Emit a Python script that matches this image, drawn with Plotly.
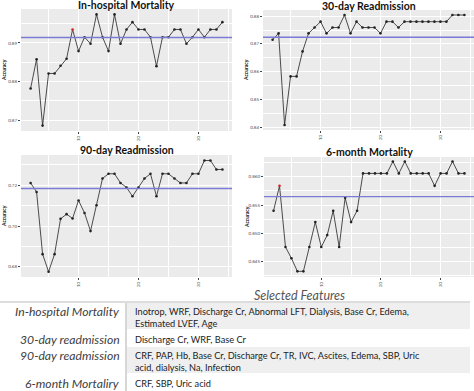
import textwrap
import plotly.graph_objects as go

# ---------------- data ----------------
n_features = list(range(2, 35))

inhosp_acc = [0.8782, 0.8858, 0.8686, 0.8821, 0.8821, 0.8841, 0.8859, 0.8935, 0.8879, 0.8915,
              0.8898, 0.8974, 0.8915, 0.8879, 0.8974, 0.8898, 0.8935, 0.8954, 0.8935, 0.8935,
              0.8915, 0.8840, 0.8915, 0.8915, 0.8935, 0.8935, 0.8898, 0.8915, 0.8935, 0.8915,
              0.8935, 0.8935, 0.8954]
inhosp_base = 0.8914
inhosp_sel = 9

readm30_acc = [0.8715, 0.8738, 0.8408, 0.8583, 0.8583, 0.8673, 0.8738, 0.8759, 0.8780, 0.8738,
               0.8759, 0.8759, 0.8804, 0.8738, 0.8780, 0.8759, 0.8759, 0.8759, 0.8738, 0.8780,
               0.8780, 0.8759, 0.8780, 0.8780, 0.8780, 0.8780, 0.8780, 0.8780, 0.8780, 0.8780,
               0.8804, 0.8804, 0.8804]
readm30_base = 0.8724
readm30_sel = None

readm90_acc = [0.7211, 0.7167, 0.6862, 0.6776, 0.6862, 0.7035, 0.7058, 0.7037, 0.7125, 0.7064,
               0.6975, 0.7102, 0.7233, 0.7256, 0.7256, 0.7211, 0.7189, 0.7146, 0.7189, 0.7233,
               0.7256, 0.7146, 0.7256, 0.7256, 0.7233, 0.7211, 0.7211, 0.7256, 0.7256, 0.7321,
               0.7321, 0.7277, 0.7277]
readm90_base = 0.7184
readm90_sel = None

mort6_acc = [0.8540, 0.8584, 0.8476, 0.8456, 0.8433, 0.8433, 0.8476, 0.8520, 0.8476, 0.8497,
             0.8540, 0.8476, 0.8563, 0.8520, 0.8540, 0.8606, 0.8606, 0.8606, 0.8606, 0.8606,
             0.8627, 0.8606, 0.8627, 0.8606, 0.8606, 0.8606, 0.8606, 0.8584, 0.8606, 0.8606,
             0.8627, 0.8606, 0.8606]
mort6_base = 0.8565
mort6_sel = 3

panel_titles = ["In-hospital Mortality", "30-day Readmission", "90-day Readmission", "6-month Mortality"]
x_ticks = [10, 20, 30]
y_ticks = [[0.87, 0.88, 0.89], [0.84, 0.85, 0.86, 0.87, 0.88], [0.68, 0.70, 0.72],
           [0.845, 0.850, 0.855, 0.860]]
y_tick_labels = [["0.87", "0.88", "0.89"], ["0.84", "0.85", "0.86", "0.87", "0.88"],
                 ["0.68", "0.70", "0.72"], ["0.845", "0.850", "0.855", "0.860"]]

table_title = "Selected Features"
outcomes = ["In-hospital Mortality", "30-day readmission", "90-day readmission", "6-month Mortaliry"]
features = [
    "Inotrop, WRF, Discharge Cr, Abnormal LFT, Dialysis, Base Cr, Edema, Estimated LVEF, Age",
    "Discharge Cr, WRF, Base Cr",
    "CRF, PAP, Hb, Base Cr, Discharge Cr, TR, IVC, Ascites, Edema, SBP, Uric acid, dialysis, Na, Infection",
    "CRF, SBP, Uric acid",
]

# ---------------- layout helpers ----------------
W, H = 474, 391


def px_x(p):
    return p / W


def px_y(p):
    return 1 - p / H


series = [inhosp_acc, readm30_acc, readm90_acc, mort6_acc]
bases = [inhosp_base, readm30_base, readm90_base, mort6_base]
sels = [inhosp_sel, readm30_sel, readm90_sel, mort6_sel]
# pixel boxes: left, right, top, bottom
boxes = [(21, 232, 9, 131), (263, 474, 10, 130), (21, 232, 155, 277), (264, 474, 157, 277)]
title_y = [5.5, 6, 149.5, 151.5]
y_ranges = [[0.8672, 0.8988], [0.8390, 0.8822], [0.6750, 0.7348], [0.8423, 0.8635]]
y_minor = [0.005, 0.005, 0.01, 0.0025]
x_range = [0.4, 35.6]

fig = go.Figure()
annotations = []
shapes = []
GRAY_BG = "#EBEBEB"
LINE_BLUE = "#7B7BD6"

for i in range(4):
    k = "" if i == 0 else str(i + 1)
    xa, ya = "x" + k, "y" + k
    l, r, t, b = boxes[i]
    xs = n_features
    ys = series[i]
    colors = ["#D62020" if (sels[i] is not None and x == sels[i]) else "#222222" for x in xs]
    fig.add_trace(go.Scatter(
        x=xs, y=ys, mode="lines+markers", xaxis=xa, yaxis=ya,
        line=dict(color="#222222", width=0.8),
        marker=dict(color=colors, size=2.6), showlegend=False, hoverinfo="x+y"))
    fig.add_trace(go.Scatter(
        x=x_range, y=[bases[i], bases[i]], mode="lines", xaxis=xa, yaxis=ya,
        line=dict(color=LINE_BLUE, width=1.4), showlegend=False, hoverinfo="skip"))
    axis_common = dict(showline=False, zeroline=False, gridcolor="white", gridwidth=0.9,
                       ticks="outside", ticklen=2, tickwidth=0.5, tickcolor="#444444",
                       tickfont=dict(size=4.5, color="#4D4D4D", family="Lato"))
    fig.update_layout(**{
        ("xaxis" + k): dict(domain=[px_x(l), px_x(r)], anchor=ya, range=x_range,
                            tickvals=x_ticks, ticktext=[str(v) for v in x_ticks], tickangle=-90,
                            minor=dict(dtick=5, tick0=0, gridcolor="white", gridwidth=0.4,
                                       showgrid=True, ticks=""),
                            **axis_common),
        ("yaxis" + k): dict(domain=[px_y(b), px_y(t)], anchor=xa, range=y_ranges[i],
                            tickvals=y_ticks[i], ticktext=y_tick_labels[i],
                            minor=dict(dtick=y_minor[i], tick0=0, gridcolor="white", gridwidth=0.4,
                                       showgrid=True, ticks=""),
                            **axis_common),
    })
    shapes.append(dict(type="rect", xref="paper", yref="paper", layer="below",
                       x0=px_x(l), x1=px_x(r), y0=px_y(b), y1=px_y(t),
                       fillcolor=GRAY_BG, line=dict(width=0)))
    annotations.append(dict(text="<b>%s</b>" % panel_titles[i], xref="paper", yref="paper",
                            x=px_x((l + r) / 2), y=px_y(title_y[i]), xanchor="center", yanchor="middle",
                            showarrow=False, font=dict(size=10.5, color="#111111", family="Lato")))
    annotations.append(dict(text="<b>Accuracy</b>", xref="paper", yref="paper", textangle=-90,
                            x=px_x(l - 17), y=px_y((t + b) / 2), xanchor="center", yanchor="middle",
                            showarrow=False, font=dict(size=5, color="#111111", family="Lato")))

# ---------------- table ----------------
annotations.append(dict(text="<i>%s</i>" % table_title, xref="paper", yref="paper",
                        x=px_x(299), y=px_y(295), xanchor="center", yanchor="middle", showarrow=False,
                        font=dict(size=12.5, color="#555555", family="Lato")))
shapes.append(dict(type="line", xref="paper", yref="paper", x0=0, x1=px_x(470),
                   y0=px_y(302), y1=px_y(302), line=dict(color="#BBBBBB", width=1)))

row_tops = [302, 330, 346, 374]
row_bottoms = [330, 346, 374, 391]
sep_x = 126
for j, (oc, ft) in enumerate(zip(outcomes, features)):
    lines = textwrap.wrap(ft, width=72)
    top, bot = row_tops[j], row_bottoms[j]
    if j % 2 == 0:
        shapes.append(dict(type="rect", xref="paper", yref="paper", layer="below",
                           x0=px_x(sep_x + 1), x1=px_x(470), y0=px_y(bot - 1), y1=px_y(top + 1),
                           fillcolor="#EFEFEF", line=dict(width=0)))
    first_line_y = top + 9
    annotations.append(dict(text="<i>%s</i>" % oc, xref="paper", yref="paper",
                            x=px_x(122), y=px_y(first_line_y), xanchor="right", yanchor="middle",
                            showarrow=False, font=dict(size=12.2, color="#404040", family="Lato")))
    for m, ln in enumerate(lines):
        annotations.append(dict(text=ln, xref="paper", yref="paper",
                                x=px_x(133), y=px_y(first_line_y + m * 12.5), xanchor="left",
                                yanchor="middle", showarrow=False,
                                font=dict(size=9.2, color="#222222", family="Lato")))
shapes.append(dict(type="line", xref="paper", yref="paper", x0=px_x(sep_x), x1=px_x(sep_x),
                   y0=0, y1=px_y(303), line=dict(color="#999999", width=0.8)))

fig.update_layout(width=W, height=H, margin=dict(l=0, r=0, t=0, b=0),
                  paper_bgcolor="white", plot_bgcolor=GRAY_BG,
                  annotations=annotations, shapes=shapes)
fig.write_html("out.html", config={"displayModeBar": False},
               post_script="document.body.style.margin='0';document.body.style.overflow='hidden';")
